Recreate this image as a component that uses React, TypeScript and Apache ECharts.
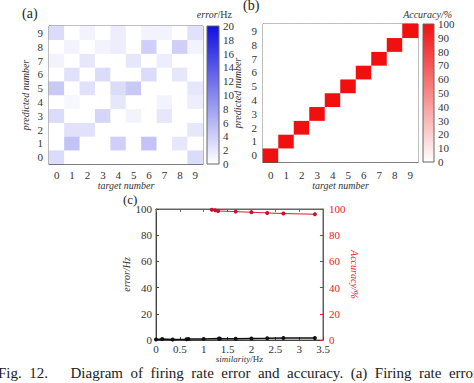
import React, { useEffect, useRef } from "react";
import * as echarts from "echarts";

const digits = ["0", "1", "2", "3", "4", "5", "6", "7", "8", "9"];

// error/Hz, rows = predicted number 0..9, columns = target number 0..9
const errorRows: number[][] = [
  [3, 0, 0, 0, 0, 0, 0, 0, 0, 3],
  [0, 5, 0, 0, 4, 0, 5, 0, 2, 0],
  [0, 2.5, 2.5, 0, 0, 0, 0, 0, 0, 2],
  [3, 0, 0, 3.5, 0, 1, 0, 2, 0, 0],
  [0, 0.7, 0, 0, 2, 0, 0, 1, 0, 1.5],
  [4.5, 0, 2.5, 0, 3, 4.5, 0, 0, 0, 2],
  [0, 2.5, 0, 3, 0, 0, 3, 0, 2, 0],
  [1, 0, 2, 0, 0, 2, 0, 1.5, 0, 0],
  [0, 1, 0, 1, 1.5, 0, 4, 0, 4, 1],
  [3, 0, 1, 0, 1.5, 0, 1, 1, 0, 2.5],
];

// accuracy/%, rows = predicted number 0..9, columns = target number 0..9
const accuracyRows: number[][] = [
  [100, 0, 0, 0, 0, 0, 0, 0, 0, 0],
  [0, 100, 0, 0, 0, 0, 0, 0, 0, 0],
  [0, 0, 100, 0, 0, 0, 0, 0, 0, 0],
  [0, 0, 0, 100, 0, 0, 0, 0, 0, 0],
  [0, 0, 0, 0, 100, 0, 0, 0, 0, 0],
  [0, 0, 0, 0, 0, 100, 0, 0, 0, 0],
  [0, 0, 0, 0, 0, 0, 100, 0, 0, 0],
  [0, 0, 0, 0, 0, 0, 0, 100, 0, 0],
  [0, 0, 0, 0, 0, 0, 0, 0, 100, 0],
  [0, 0, 0, 0, 0, 0, 0, 0, 0, 100],
];

const errorSimilarity = [0, 0.13, 0.35, 0.64, 0.68, 1.0, 1.32, 1.34, 1.67, 2.0, 2.33, 2.67, 3.33];
const errorValues = [0.4, 0.8, 0.3, 0.5, 0.7, 0.8, 1.2, 1.0, 0.9, 1.2, 1.3, 1.5, 1.6];

const accuracySimilarity = [1.17, 1.24, 1.3, 1.67, 2.0, 2.33, 2.67, 3.33];
const accuracyValues = [99.5, 99, 98.5, 98, 97.5, 97, 96.5, 96];

const SERIF = "Liberation Serif";

function toCells(rows: number[][]) {
  const out: number[][] = [];
  rows.forEach((row, y) => row.forEach((v, x) => out.push([x, y, v])));
  return out;
}

export default function App() {
  const ref = useRef<HTMLDivElement>(null);
  useEffect(() => {
    if (!ref.current) return;
    const chart = echarts.init(ref.current, undefined, { renderer: "svg" });
    const tickLabel = { fontFamily: SERIF, fontSize: 11, color: "#333" };
    const axisNameStyle = { fontFamily: SERIF, fontSize: 10, fontStyle: "italic" as const, color: "#333" };
    const lineGray = { lineStyle: { color: "#555", width: 1 } };
    const catX = (gridIndex: number, margin: number, nameGap: number) => ({
      type: "category" as const,
      gridIndex,
      data: digits,
      position: "bottom" as const,
      axisLine: { show: true, ...lineGray },
      axisTick: { show: true, inside: true, alignWithLabel: true, length: 3, interval: 0, ...lineGray },
      axisLabel: { ...tickLabel, margin, interval: 0 },
      splitLine: { show: false },
      name: "target number",
      nameLocation: "middle" as const,
      nameGap,
      nameTextStyle: axisNameStyle,
    });
    const catY = (gridIndex: number, margin: number, nameGap: number) => ({
      type: "category" as const,
      gridIndex,
      data: digits,
      axisLine: { show: true, ...lineGray },
      axisTick: { show: true, inside: true, alignWithLabel: true, length: 3, interval: 0, ...lineGray },
      axisLabel: { ...tickLabel, margin, interval: 0 },
      splitLine: { show: false },
      name: "predicted number",
      nameLocation: "middle" as const,
      nameGap,
      nameTextStyle: axisNameStyle,
    });

    chart.setOption({
      animation: false,
      backgroundColor: "#ffffff",
      textStyle: { fontFamily: SERIF },
      grid: [
        { left: 49, top: 26, width: 154, height: 138, show: true, borderColor: "#555", borderWidth: 1, backgroundColor: "transparent" },
        { left: 263, top: 24, width: 155, height: 138, show: true, borderColor: "#555", borderWidth: 1, backgroundColor: "transparent" },
        { left: 156, top: 209, width: 167, height: 131, show: true, borderColor: "#666", borderWidth: 1, backgroundColor: "transparent" },
        { left: 207, top: 26, width: 12, height: 138 },
        { left: 423, top: 24, width: 11, height: 138 },
      ],
      xAxis: [
        catX(0, 5, 15),
        catX(1, 7, 18),
        {
          type: "value",
          gridIndex: 2,
          min: 0,
          max: 3.5,
          interval: 0.5,
          position: "bottom",
          axisLine: { show: true, onZero: false, lineStyle: { color: "#444", width: 1 } },
          axisTick: { show: true, inside: true, length: 3, lineStyle: { color: "#444" } },
          axisLabel: { ...tickLabel, margin: 3 },
          splitLine: { show: false },
          name: "{i|similarity}/Hz",
          nameLocation: "middle",
          nameGap: 14,
          nameTextStyle: {
            fontFamily: SERIF,
            fontSize: 9,
            color: "#333",
            rich: { i: { fontFamily: SERIF, fontSize: 9, fontStyle: "italic", color: "#333" } },
          },
        },
        {
          type: "value",
          gridIndex: 2,
          min: 0,
          max: 3.5,
          interval: 0.5,
          position: "top",
          axisLine: { show: true, onZero: false, lineStyle: { color: "#666", width: 1 } },
          axisTick: { show: true, inside: true, length: 3, lineStyle: { color: "#666" } },
          axisLabel: { show: false },
          splitLine: { show: false },
        },
        { type: "value", gridIndex: 3, show: false, min: 0, max: 1 },
        { type: "value", gridIndex: 4, show: false, min: 0, max: 1 },
      ],
      yAxis: [
        catY(0, 6, 19),
        catY(1, 6, 21),
        {
          type: "value",
          gridIndex: 2,
          min: 0,
          max: 100,
          interval: 20,
          position: "left",
          axisLine: { show: true, onZero: false, lineStyle: { color: "#444", width: 1 } },
          axisTick: { show: true, inside: true, length: 3, lineStyle: { color: "#444" } },
          axisLabel: { ...tickLabel, margin: 4 },
          splitLine: { show: false },
          name: "error/Hz",
          nameLocation: "middle",
          nameGap: 17,
          nameTextStyle: axisNameStyle,
        },
        {
          type: "value",
          gridIndex: 2,
          min: 0,
          max: 100,
          interval: 20,
          position: "right",
          axisLine: { show: true, onZero: false, lineStyle: { color: "#e8202a", width: 1 } },
          axisTick: { show: true, inside: true, length: 3, lineStyle: { color: "#e8202a" } },
          axisLabel: { fontFamily: SERIF, fontSize: 11, color: "#e8202a", margin: 6 },
          splitLine: { show: false },
          name: "Accuracy/%",
          nameLocation: "middle",
          nameGap: 18,
          nameRotate: -90,
          nameTextStyle: { ...axisNameStyle, color: "#e8202a" },
        },
        {
          type: "value",
          gridIndex: 3,
          min: 0,
          max: 20,
          interval: 2,
          position: "right",
          axisLine: { show: false },
          axisTick: { show: false },
          axisLabel: { ...tickLabel, margin: 4 },
          splitLine: { show: false },
        },
        {
          type: "value",
          gridIndex: 4,
          min: 0,
          max: 100,
          interval: 10,
          position: "right",
          axisLine: { show: false },
          axisTick: { show: false },
          axisLabel: { ...tickLabel, margin: 4 },
          splitLine: { show: false },
        },
      ],
      visualMap: [
        { type: "continuous", show: false, seriesIndex: 0, min: 0, max: 20, inRange: { color: ["#ffffff", "#1010e0"] } },
        { type: "continuous", show: false, seriesIndex: 1, min: 0, max: 100, inRange: { color: ["#ffffff", "#f01010"] } },
      ],
      series: [
        {
          type: "heatmap",
          xAxisIndex: 0,
          yAxisIndex: 0,
          data: toCells(errorRows),
          itemStyle: { borderWidth: 0 },
          emphasis: { disabled: true },
          z: 1,
        },
        {
          type: "heatmap",
          xAxisIndex: 1,
          yAxisIndex: 1,
          data: toCells(accuracyRows),
          itemStyle: { borderWidth: 0 },
          emphasis: { disabled: true },
          z: 1,
        },
        {
          type: "line",
          xAxisIndex: 2,
          yAxisIndex: 2,
          data: errorSimilarity.map((s, i) => [s, errorValues[i]]),
          symbol: "circle",
          symbolSize: 4,
          lineStyle: { color: "#111", width: 1.5 },
          itemStyle: { color: "#111" },
          z: 3,
        },
        {
          type: "line",
          xAxisIndex: 2,
          yAxisIndex: 3,
          data: accuracySimilarity.map((s, i) => [s, accuracyValues[i]]),
          symbol: "circle",
          symbolSize: 4,
          lineStyle: { color: "#d41f36", width: 1 },
          itemStyle: { color: "#c8102e" },
          z: 3,
        },
      ],
      graphic: [
        {
          type: "rect",
          shape: { x: 207, y: 26, width: 12, height: 138 },
          style: {
            fill: new echarts.graphic.LinearGradient(0, 0, 0, 1, [
              { offset: 0, color: "#1010e0" },
              { offset: 1, color: "#ffffff" },
            ]),
            stroke: "#666",
            lineWidth: 1,
          },
        },
        {
          type: "rect",
          shape: { x: 423, y: 24, width: 11, height: 138 },
          style: {
            fill: new echarts.graphic.LinearGradient(0, 0, 0, 1, [
              { offset: 0, color: "#f01010" },
              { offset: 1, color: "#ffffff" },
            ]),
            stroke: "#666",
            lineWidth: 1,
          },
        },
        {
          type: "text",
          x: 232,
          y: 14,
          style: {
            text: "{i|error}/Hz",
            align: "right",
            verticalAlign: "middle",
            fontFamily: SERIF,
            fontSize: 10,
            fill: "#333",
            rich: { i: { fontStyle: "italic", fontFamily: SERIF, fontSize: 10, fill: "#333" } },
          },
        },
        {
          type: "text",
          x: 452,
          y: 14,
          style: {
            text: "Accuracy/%",
            align: "right",
            verticalAlign: "middle",
            fontFamily: SERIF,
            fontStyle: "italic",
            fontSize: 10,
            fill: "#333",
          },
        },
        {
          type: "text",
          x: 22,
          y: 13,
          style: { text: "(a)", verticalAlign: "middle", fontFamily: SERIF, fontSize: 14, fill: "#222" },
        },
        {
          type: "text",
          x: 243,
          y: 5,
          style: { text: "(b)", verticalAlign: "middle", fontFamily: SERIF, fontSize: 14, fill: "#222" },
        },
        {
          type: "text",
          x: 123,
          y: 199,
          style: { text: "(c)", verticalAlign: "middle", fontFamily: SERIF, fontSize: 13, fill: "#222" },
        },
        {
          type: "text",
          x: -2,
          y: 365,
          style: {
            text: "Fig.  12.      Diagram  of  firing  rate  error  and  accuracy.  (a)  Firing  rate  error",
            verticalAlign: "top",
            fontFamily: SERIF,
            fontSize: 15,
            fill: "#222",
          },
        },
      ],
    });
    return () => chart.dispose();
  }, []);
  return <div ref={ref} style={{ position: "fixed", left: 0, top: 0, width: 474, height: 383 }} />;
}
